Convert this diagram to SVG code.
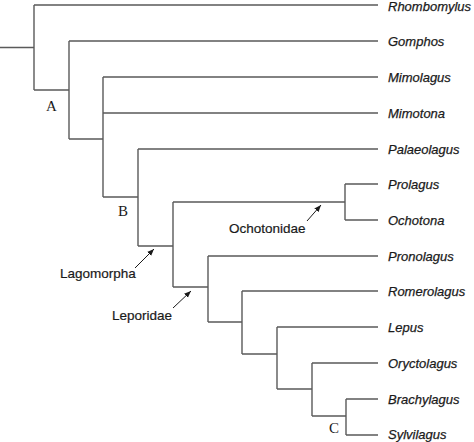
<svg xmlns="http://www.w3.org/2000/svg" width="474" height="442" viewBox="0 0 474 442">
<defs>
<style>
.br{fill:none;stroke:#5a5a5a;stroke-width:1.4}
.tip{font-family:"Liberation Sans",Arial,sans-serif;font-style:italic;font-size:13px;fill:#1a1a1a;stroke:#1a1a1a;stroke-width:0.25}
.cl{font-family:"Liberation Sans",Arial,sans-serif;font-size:13.5px;fill:#1a1a1a;stroke:#1a1a1a;stroke-width:0.2}
.nl{font-family:"Liberation Serif","Times New Roman",serif;font-size:15px;fill:#1a1a1a}
.ar{fill:none;stroke:#1a1a1a;stroke-width:1}
</style>
<marker id="ah" viewBox="0 0 10 10" refX="10" refY="5" markerWidth="7" markerHeight="7" orient="auto" markerUnits="userSpaceOnUse">
<path d="M0,1 L10,5 L0,9 Z" fill="#1a1a1a"/>
</marker>
</defs>
<rect width="474" height="442" fill="#ffffff"/>
<g id="connectors">
<path class="br" d="M0,47.5 H34 M34,5 V90 M34,5 H378 M34,90 H69"/>
<path class="br" d="M69,41 V139 M69,41 H378 M69,139 H103"/>
<path class="br" d="M103,77 V197 M103,77 H378 M103,113 H378 M103,197 H138"/>
<path class="br" d="M138,149 V246 M138,149 H378 M138,246 H173"/>
<path class="br" d="M173,202 V287 M173,202 H345 M173,287 H208"/>
<path class="br" d="M345,184 V220 M345,184 H378 M345,220 H378"/>
<path class="br" d="M208,256 V322 M208,256 H378 M208,322 H242"/>
<path class="br" d="M242,291 V354 M242,291 H378 M242,354 H277"/>
<path class="br" d="M277,327 V389 M277,327 H378 M277,389 H312"/>
<path class="br" d="M312,363 V416 M312,363 H378 M312,416 H346"/>
<path class="br" d="M346,399 V435 M346,399 H378 M346,435 H378"/>
<path class="ar" d="M135,268 L154,249" marker-end="url(#ah)"/>
<path class="ar" d="M173,308 L191,291" marker-end="url(#ah)"/>
<path class="ar" d="M307,221 L321,205" marker-end="url(#ah)"/>
</g>
<g id="tip-rhombomylus"><text class="tip" x="388" y="10.5">Rhombomylus</text></g>
<g id="tip-gomphos"><text class="tip" x="388" y="45.5">Gomphos</text></g>
<g id="tip-mimolagus"><text class="tip" x="388" y="81.5">Mimolagus</text></g>
<g id="tip-mimotona"><text class="tip" x="388" y="117.5">Mimotona</text></g>
<g id="tip-palaeolagus"><text class="tip" x="388" y="153.5">Palaeolagus</text></g>
<g id="tip-prolagus"><text class="tip" x="388" y="188.5">Prolagus</text></g>
<g id="tip-ochotona"><text class="tip" x="388" y="224.5">Ochotona</text></g>
<g id="tip-pronolagus"><text class="tip" x="388" y="260.5">Pronolagus</text></g>
<g id="tip-romerolagus"><text class="tip" x="388" y="295.5">Romerolagus</text></g>
<g id="tip-lepus"><text class="tip" x="388" y="331.5">Lepus</text></g>
<g id="tip-oryctolagus"><text class="tip" x="388" y="367.5">Oryctolagus</text></g>
<g id="tip-brachylagus"><text class="tip" x="388" y="403.5">Brachylagus</text></g>
<g id="tip-sylvilagus"><text class="tip" x="388" y="439">Sylvilagus</text></g>
<g id="node-A"><text class="nl" x="46" y="111">A</text></g>
<g id="node-B"><text class="nl" x="118" y="216">B</text></g>
<g id="node-C"><text class="nl" x="329" y="433">C</text></g>
<g id="clade-lagomorpha"><text class="cl" x="60" y="278">Lagomorpha</text></g>
<g id="clade-leporidae"><text class="cl" x="112" y="320">Leporidae</text></g>
<g id="clade-ochotonidae"><text class="cl" x="229" y="233">Ochotonidae</text></g>
</svg>
